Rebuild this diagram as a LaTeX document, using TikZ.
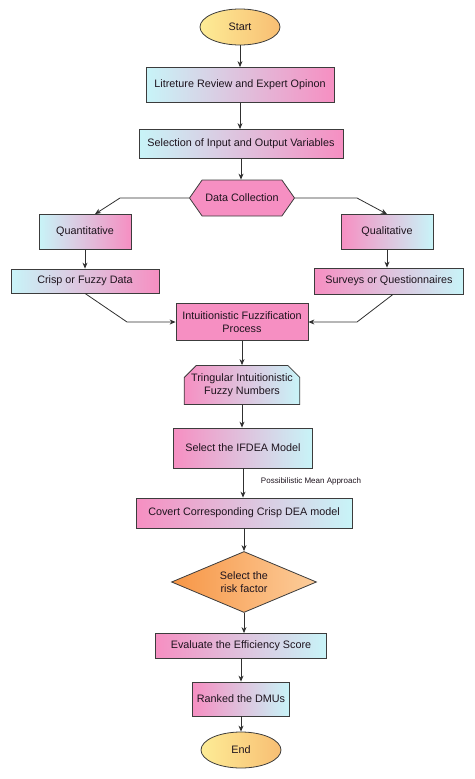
\documentclass[tikz,border=0pt]{standalone}
\usepackage{fontspec}
\setmainfont{Liberation Sans}
\usetikzlibrary{shapes.geometric,shapes.symbols,shapes.misc,arrows.meta,calc}
\definecolor{pk}{RGB}{246,143,194}
\definecolor{cy}{RGB}{200,244,248}
\definecolor{yl}{RGB}{253,236,150}
\definecolor{orl}{RGB}{248,190,115}
\definecolor{ord}{RGB}{247,150,70}
\definecolor{orr}{RGB}{252,205,155}
\definecolor{bd}{RGB}{60,60,60}
\definecolor{tx}{RGB}{30,20,30}
\tikzset{
  base/.style={draw=bd,line width=0.8pt,inner sep=1pt,text=tx,font=\fontsize{10.8}{13}\selectfont,align=center},
  cp/.style={base,rectangle,left color=cy,right color=pk},
  pc/.style={base,rectangle,left color=pk,right color=cy},
  term/.style={base,ellipse,left color=yl,right color=orl,minimum width=80pt,minimum height=36pt,inner sep=0pt},
  arr/.style={draw=bd!80!black,line width=0.8pt,-{Stealth[length=6pt,width=5pt]}},
}
\begin{document}
\begin{tikzpicture}[x=1pt,y=-1pt]
\useasboundingbox (0,0) rectangle (474,779);
\node[term] (start) at (240,27) {Start};
\node[cp,minimum width=188pt,minimum height=35pt] (lit) at (240,85) {Litreture Review and Expert Opinon};
\node[cp,minimum width=204pt,minimum height=29pt] (sel) at (241,144) {Selection of Input and Output Variables};
\node[base,shape=signal,signal to=east and west,signal pointer angle=110,fill=pk,minimum width=105pt,minimum height=36pt] (data) at (242,198) {Data Collection};
\node[cp,minimum width=92pt,minimum height=35pt] (quant) at (85,232) {Quantitative};
\node[pc,minimum width=92pt,minimum height=35pt] (qual) at (387,232) {Qualitative};
\node[cp,minimum width=148pt,minimum height=24pt] (crisp) at (85,281) {Crisp or Fuzzy Data};
\node[pc,minimum width=149pt,minimum height=26pt] (surv) at (389,281) {Surveys or Questionnaires};
\node[base,rectangle,fill=pk,minimum width=132pt,minimum height=37pt] (intu) at (242,322) {Intuitionistic Fuzzification\\Process};
\node[base,chamfered rectangle,chamfered rectangle corners={north west,north east},chamfered rectangle xsep=6pt,chamfered rectangle ysep=6pt,left color=pk,right color=cy,minimum width=115pt,minimum height=39pt] (tri) at (242,385) {Tringular Intuitionistic\\Fuzzy Numbers};
\node[pc,minimum width=139pt,minimum height=40pt] (ifdea) at (243,448) {Select the IFDEA Model};
\node[pc,minimum width=216pt,minimum height=30pt] (covert) at (244,513) {Covert Corresponding Crisp DEA model};
\node[base,diamond,shape aspect=2.4,left color=ord,right color=orr,minimum width=145pt,minimum height=61pt,inner sep=0pt] (risk) at (244,582) {Select the\\risk factor};
\node[pc,minimum width=171pt,minimum height=25pt] (eval) at (241,646) {Evaluate the Efficiency Score};
\node[pc,minimum width=97pt,minimum height=34pt] (rank) at (241,699) {Ranked the DMUs};
\node[term] (end) at (241,750) {End};
\node[font=\fontsize{8}{9}\selectfont,text=tx] (pma) at (311,481) {Possibilistic Mean Approach};
% connectors
\coordinate (dl) at (120,198);
\coordinate (dr) at (357,198);
\coordinate (cl) at (127,322);
\coordinate (sr) at (357,322);
\draw[arr] (start.south) -- (start.south |- lit.north);
\draw[arr] (lit.south) -- (lit.south |- sel.north);
\draw[arr] (sel.south) -- (sel.south |- data.north);
\draw[arr] (data.west) -- (dl) -- ($(quant.north)+(10,0)$);
\draw[arr] (data.east) -- (dr) -- (qual.north);
\draw[arr] (quant.south) -- (quant.south |- crisp.north);
\draw[arr] (qual.south) -- (qual.south |- surv.north);
\draw[arr] (crisp.south) -- (cl) -- (intu.west);
\draw[arr] ($(surv.south)+(4,0)$) -- (sr) -- (intu.east);
\draw[arr] (intu.south) -- (intu.south |- tri.north);
\draw[arr] (tri.south) -- (tri.south |- ifdea.north);
\draw[arr] (ifdea.south) -- (ifdea.south |- covert.north);
\draw[arr] (covert.south) -- (covert.south |- risk.north);
\draw[arr] (risk.south) -- (risk.south |- eval.north);
\draw[arr] (eval.south) -- (eval.south |- rank.north);
\draw[arr] (rank.south) -- (rank.south |- end.north);
\end{tikzpicture}
\end{document}
